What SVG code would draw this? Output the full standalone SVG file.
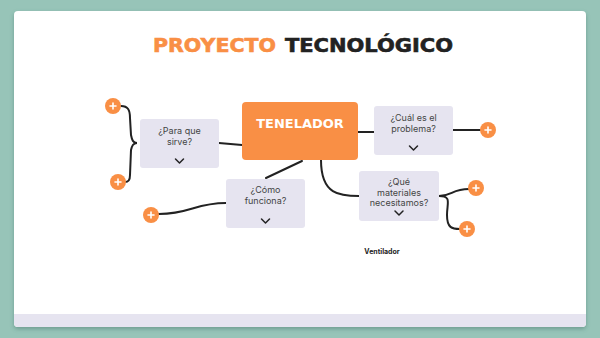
<svg xmlns="http://www.w3.org/2000/svg" width="600" height="338" viewBox="0 0 600 338">
<defs>
<filter id="sh" x="-5%" y="-5%" width="110%" height="115%"><feDropShadow dx="0" dy="2" stdDeviation="2" flood-color="#3d6b60" flood-opacity="0.45"/></filter>
<style>
.q{fill:#e6e4f0}
.t{font-family:"Inter","Liberation Sans",sans-serif;font-size:9px;fill:#444;text-anchor:middle}
.ch{fill:none;stroke:#222;stroke-width:1.5;stroke-linecap:round;stroke-linejoin:round}
.c{fill:none;stroke:#222;stroke-width:2;stroke-linecap:round}
.p{fill:#f98f45}
.pl{stroke:#fff;stroke-width:1.6;stroke-linecap:round}
</style>
</defs>
<rect width="600" height="338" fill="#97c4b8"/>
<g id="card">
<rect x="14" y="11" width="572" height="316" rx="4" fill="#fff" filter="url(#sh)"/>
<path d="M14 314 H586 V323 a4 4 0 0 1 -4 4 H18 a4 4 0 0 1 -4 -4 Z" fill="#e6e4f0"/>
</g>
<g id="title" font-family="'DejaVu Sans','Liberation Sans',sans-serif" font-weight="bold" font-size="19" stroke-width="0.6">
<text x="153" y="52" textLength="123" lengthAdjust="spacingAndGlyphs" fill="#f98f45" stroke="#f98f45">PROYECTO</text>
<text x="285" y="52" textLength="168" lengthAdjust="spacingAndGlyphs" fill="#222" stroke="#222">TECNOLÓGICO</text>
</g>
<g id="connectors">
<path class="c" d="M219 143 L242 145"/>
<path class="c" d="M358 132 L374 132"/>
<path class="c" d="M453 130 L481 130"/>
<path class="c" d="M302 161 L266 178"/>
<path class="c" d="M226 203 C195 203 190 214 159 214"/>
<path class="c" d="M321 160 C321 195 340 196 359 196"/>
<path class="c" d="M439 196 C452 196 452 189 469 189"/>
<path class="c" d="M439 196 C452 196 447 203 447 215 C447 228 452 229 460 229"/>
<path class="c" d="M121 106 C128 106 130 110 130 118 L131 135 C132 140 133 143 137 143 C133 143 132 146 131 150 L130 175 C130 181 128 182 125 182"/>
</g>
<g id="tenelador">
<rect x="242" y="102" width="116" height="58" rx="4" fill="#f98f45"/>
<text x="300" y="128" text-anchor="middle" font-family="'DejaVu Sans','Liberation Sans',sans-serif" font-weight="bold" font-size="13" fill="#fff">TENELADOR</text>
</g>
<g id="para">
<rect class="q" x="140" y="119" width="79" height="49" rx="3"/>
<text class="t" x="179.5" y="134">¿Para que</text>
<text class="t" x="179.5" y="145">sirve?</text>
<path class="ch" d="M175.5 159 L179.5 163 L183.5 159"/>
</g>
<g id="cual">
<rect class="q" x="374" y="106" width="79" height="49" rx="3"/>
<text class="t" x="413.5" y="121">¿Cuál es el</text>
<text class="t" x="413.5" y="132">problema?</text>
<path class="ch" d="M409.5 146 L413.5 150 L417.5 146"/>
</g>
<g id="como">
<rect class="q" x="226" y="179" width="79" height="49" rx="3"/>
<text class="t" x="265.5" y="193">¿Cómo</text>
<text class="t" x="265.5" y="204">funciona?</text>
<path class="ch" d="M261.5 219 L265.5 223 L269.5 219"/>
</g>
<g id="que">
<rect class="q" x="359" y="171" width="80" height="50" rx="3"/>
<text class="t" x="399" y="185">¿Qué</text>
<text class="t" x="399" y="196">materiales</text>
<text class="t" x="399" y="206">necesitamos?</text>
<path class="ch" d="M395 211 L399 215 L403 211"/>
</g>
<g id="ventilador">
<text x="382" y="254" text-anchor="middle" font-family="'Inter','Liberation Sans',sans-serif" font-weight="bold" font-size="7" fill="#222">Ventilador</text>
</g>
<g id="plus1"><circle class="p" cx="113" cy="106" r="8"/><path class="pl" d="M110 106 H116 M113 103 V109"/></g>
<g id="plus2"><circle class="p" cx="118" cy="182" r="8"/><path class="pl" d="M115 182 H121 M118 179 V185"/></g>
<g id="plus3"><circle class="p" cx="488" cy="130" r="8"/><path class="pl" d="M485 130 H491 M488 127 V133"/></g>
<g id="plus4"><circle class="p" cx="476" cy="188" r="8"/><path class="pl" d="M473 188 H479 M476 185 V191"/></g>
<g id="plus5"><circle class="p" cx="467" cy="229" r="8"/><path class="pl" d="M464 229 H470 M467 226 V232"/></g>
<g id="plus6"><circle class="p" cx="151" cy="215" r="8"/><path class="pl" d="M148 215 H154 M151 212 V218"/></g>
</svg>
